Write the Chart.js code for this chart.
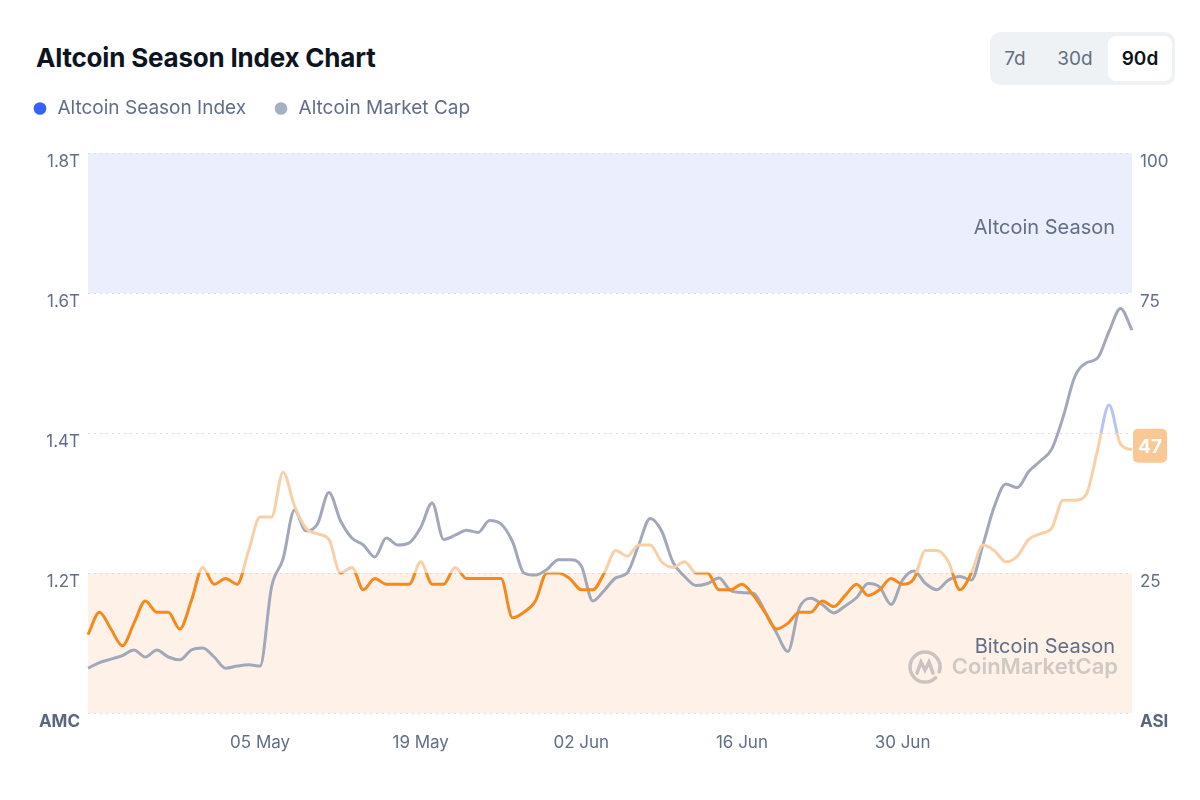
<!DOCTYPE html>
<html>
<head>
<meta charset="utf-8">
<script src="https://cdn.jsdelivr.net/npm/chart.js@4.4.1/dist/chart.umd.min.js"></script>
<style>
  html, body { margin: 0; padding: 0; background: #fff; font-family: Inter, "Noto Sans", sans-serif; }
  #page { position: relative; width: 1200px; height: 800px; overflow: hidden; }
  #title { position: absolute; left: 36px; top: 41px; font-size: 26px; font-weight: 700; color: #0D1421; line-height: 34px; letter-spacing: -0.2px; }
  #range { position: absolute; left: 990px; top: 32px; width: 185px; height: 53px; background: #EFF2F5; border-radius: 10px; }
  #range span { position: absolute; top: 4px; height: 45px; line-height: 45px; font-size: 19px; color: #616E85; text-align: center; }
  #range span.on { background: #fff; color: #0D1421; font-weight: 600; border-radius: 8px; }
  #wrap { position: absolute; left: 0; top: 72px; width: 1200px; height: 728px; }
</style>
</head>
<body>
<div id="page">
  <div id="title">Altcoin Season Index Chart</div>
  <div id="range">
    <span style="left:0px;width:50px">7d</span>
    <span style="left:60px;width:50px">30d</span>
    <span class="on" style="left:118px;width:64px">90d</span>
  </div>
  <div id="wrap"><canvas id="asiChart"></canvas></div>
</div>
<script>
// 90 days, 20 Apr -> 20 Jul
const startDay = new Date(2025, 3, 20);
const dayCount = 92;
const months = ["Jan","Feb","Mar","Apr","May","Jun","Jul","Aug","Sep","Oct","Nov","Dec"];
const dayLabels = [];
for (let i = 0; i < dayCount; i++) {
  const d = new Date(startDay.getFullYear(), startDay.getMonth(), startDay.getDate() + i);
  dayLabels.push(String(d.getDate()).padStart(2, "0") + " " + months[d.getMonth()]);
}
const xTickDates = ["05 May", "19 May", "02 Jun", "16 Jun", "30 Jun"];

// Altcoin Season Index (right axis, 0-100)
const asiValues = [
  14, 18, 15, 12, 16, 20, 18, 18, 15, 20, 26, 23, 24, 23, 29, 35, 35, 43, 37, 33, 32, 31, 25, 26,
  22, 24, 23, 23, 23, 27, 23, 23, 26, 24, 24, 24, 24, 17, 18, 20, 25, 25, 24, 22, 22, 25,
  29, 28, 30, 30, 27, 26, 27, 25, 25, 22, 22, 23, 21, 18, 15, 16, 18, 18, 20, 19, 21, 23, 21,
  22, 24, 23, 24, 29, 29, 27, 22, 25, 30, 29, 27, 28, 31, 32, 33, 38, 38, 39, 47, 55, 48, 47
];

// Altcoin Market Cap, trillions (left axis)
const amcValues = [
  1.064, 1.072, 1.077, 1.082, 1.09, 1.08, 1.09, 1.08, 1.076, 1.09, 1.093, 1.08, 1.064, 1.067, 1.069, 1.067, 1.18, 1.22, 1.29, 1.26, 1.27, 1.315, 1.275, 1.25,
  1.24, 1.223, 1.25, 1.24, 1.243, 1.265, 1.30, 1.248, 1.254, 1.261, 1.258, 1.275, 1.27, 1.245, 1.20, 1.197, 1.205, 1.219, 1.219, 1.21, 1.16, 1.175,
  1.193, 1.2, 1.24, 1.278, 1.26, 1.215, 1.195, 1.182, 1.185, 1.193, 1.175, 1.172, 1.171, 1.145, 1.115, 1.088, 1.15, 1.164, 1.155, 1.143, 1.153, 1.165, 1.185,
  1.18, 1.155, 1.19, 1.203, 1.185, 1.176, 1.19, 1.195, 1.19, 1.24, 1.295, 1.327, 1.322, 1.345, 1.36, 1.377, 1.423, 1.48, 1.5, 1.507, 1.545, 1.578, 1.547
];

const amcRange = [1.0, 1.8];
const asiRange = [0, 100];
const bitcoinSeasonMax = 25;
const altcoinSeasonMin = 75;

const ORANGE = "#F5891C";
const PEACH = "#F9D0A6";
const PALEBLUE = "#B6C4F3";
const GREY_LINE = "#A1A8BA";
const LABEL = "#616E85";
const DARK = "#58667E";

function asiStroke(c) {
  const chart = c.chart;
  const area = chart.chartArea;
  if (!area) return ORANGE;
  const yR = chart.scales.yR;
  const g = chart.ctx.createLinearGradient(0, area.bottom, 0, area.top);
  const h = area.bottom - area.top;
  const p25 = (area.bottom - yR.getPixelForValue(25)) / h;
  const p50 = (area.bottom - yR.getPixelForValue(50)) / h;
  g.addColorStop(0, ORANGE);
  g.addColorStop(p25, ORANGE);
  g.addColorStop(p25, PEACH);
  g.addColorStop(p50, PEACH);
  g.addColorStop(p50, PALEBLUE);
  g.addColorStop(1, PALEBLUE);
  return g;
}

// extra room under the legend
const legendGap = {
  id: "legendGap",
  afterInit(chart) {
    const lg = chart.legend;
    if (!lg) return;
    const fit = lg.fit.bind(lg);
    lg.fit = function () { fit(); this.height += 25; };
  }
};

const seasonBands = {
  id: "seasonBands",
  beforeDatasetsDraw(chart) {
    const { ctx, chartArea: a, scales } = chart;
    const yR = scales.yR;
    ctx.save();
    const top1 = yR.getPixelForValue(asiRange[1]);
    const bot1 = yR.getPixelForValue(altcoinSeasonMin);
    ctx.fillStyle = "#EAEEFD";
    ctx.fillRect(a.left, top1, a.right - a.left, bot1 - top1);
    const top2 = yR.getPixelForValue(bitcoinSeasonMax);
    const bot2 = yR.getPixelForValue(asiRange[0]);
    ctx.fillStyle = "#FEF1E8";
    ctx.fillRect(a.left, top2, a.right - a.left, bot2 - top2);

    // dotted grid over the bands
    ctx.strokeStyle = "#D8DCE4";
    ctx.lineWidth = 1;
    ctx.setLineDash([2, 4]);
    [0, 25, 50, 75, 100].forEach(v => {
      const y = Math.round(yR.getPixelForValue(v)) + 0.5;
      ctx.beginPath();
      ctx.moveTo(a.left, y);
      ctx.lineTo(a.right, y);
      ctx.stroke();
    });
    ctx.setLineDash([]);

    ctx.fillStyle = LABEL;
    ctx.font = "20px Inter";
    ctx.textAlign = "right";
    ctx.textBaseline = "middle";
    ctx.fillText("Altcoin Season", a.right - 17, yR.getPixelForValue(86.6));
    ctx.fillText("Bitcoin Season", a.right - 17, yR.getPixelForValue(11.8));

    // watermark
    const wy = yR.getPixelForValue(8.2);
    ctx.fillStyle = "rgba(150,150,150,0.45)";
    ctx.font = "600 22px Inter";
    ctx.fillText("CoinMarketCap", a.right - 14, wy);
    ctx.strokeStyle = "rgba(150,150,150,0.5)";
    ctx.lineWidth = 3.5;
    ctx.lineCap = "round";
    const cx = 925, r = 15;
    ctx.beginPath();
    ctx.arc(cx, wy, r, 0.25 * Math.PI, 2.1 * Math.PI);
    ctx.stroke();
    ctx.beginPath();
    ctx.moveTo(cx - 8, wy + 6);
    ctx.lineTo(cx - 4, wy - 5);
    ctx.lineTo(cx, wy + 3);
    ctx.lineTo(cx + 4, wy - 5);
    ctx.lineTo(cx + 8, wy + 6);
    ctx.stroke();
    ctx.restore();
  }
};

const lastBadge = {
  id: "lastBadge",
  afterDatasetsDraw(chart) {
    const { ctx, chartArea: a } = chart;
    const meta = chart.getDatasetMeta(0);
    const pt = meta.data[meta.data.length - 1];
    const val = asiValues[asiValues.length - 1];
    const w = 34, h = 34, x = a.right + 1, y = pt.y - h / 2 - 4;
    ctx.save();
    ctx.fillStyle = "#F9C894";
    ctx.beginPath();
    ctx.roundRect(x, y, w, h, 5);
    ctx.fill();
    ctx.fillStyle = "#fff";
    ctx.font = "bold 19px Inter";
    ctx.textAlign = "center";
    ctx.textBaseline = "middle";
    ctx.fillText(String(val), x + w / 2, y + h / 2 + 1);
    ctx.restore();
  }
};

new Chart(document.getElementById("asiChart"), {
  type: "line",
  data: {
    labels: dayLabels,
    datasets: [
      {
        label: "Altcoin Season Index",
        data: asiValues,
        yAxisID: "yR",
        borderColor: asiStroke,
        backgroundColor: "#3861FB",
        borderWidth: 3,
        pointRadius: 0,
        cubicInterpolationMode: "monotone"
      },
      {
        label: "Altcoin Market Cap",
        data: amcValues,
        yAxisID: "y",
        borderColor: GREY_LINE,
        backgroundColor: GREY_LINE,
        borderWidth: 3,
        pointRadius: 0,
        cubicInterpolationMode: "monotone"
      }
    ]
  },
  options: {
    responsive: true,
    maintainAspectRatio: false,
    animation: false,
    layout: { padding: { left: 5, right: 0, top: 0, bottom: 0 } },
    plugins: {
      tooltip: { enabled: false },
      legend: {
        position: "top",
        align: "start",
        labels: {
          usePointStyle: true,
          boxWidth: 16,
          boxHeight: 9,
          padding: 27,
          color: LABEL,
          font: { family: "Inter", size: 19 },
          generateLabels(chart) {
            const cols = ["#3861FB", "#A6B0C3"];
            return chart.data.datasets.map((ds, i) => ({
              text: ds.label,
              fillStyle: cols[i],
              strokeStyle: cols[i],
              fontColor: LABEL,
              lineWidth: 0,
              pointStyle: "circle",
              datasetIndex: i,
              hidden: false
            }));
          }
        }
      }
    },
    scales: {
      x: {
        type: "category",
        offset: false,
        grid: { display: false },
        border: { display: false },
        afterFit(s) { s.height = 87; },
        ticks: {
          autoSkip: false,
          maxRotation: 0,
          padding: 12,
          color: LABEL,
          font: { family: "Inter", size: 17 },
          callback(v) {
            const lab = this.getLabelForValue(v);
            return xTickDates.includes(lab) ? lab : "";
          }
        }
      },
      y: {
        position: "left",
        min: amcRange[0],
        max: amcRange[1],
        afterFit(s) { s.width = 83; },
        grid: { display: false },
        border: { display: false },
        ticks: {
          stepSize: 0.2,
          padding: 0,
          labelOffset: 9,
          color: c => (c.tick && Math.abs(c.tick.value - amcRange[0]) < 1e-6 ? DARK : LABEL),
          font: c => (c.tick && Math.abs(c.tick.value - amcRange[0]) < 1e-6
            ? { family: "Inter", size: 17, weight: "bold" }
            : { family: "Inter", size: 17 }),
          callback(v) {
            if (Math.abs(v - amcRange[0]) < 1e-6) return "AMC";
            return v.toFixed(1) + "T";
          }
        }
      },
      yR: {
        position: "right",
        min: asiRange[0],
        max: asiRange[1],
        afterFit(s) { s.width = 68; },
        grid: { display: false },
        border: { display: false },
        ticks: {
          stepSize: 25,
          padding: 0,
          labelOffset: 9,
          color: c => (c.tick && c.tick.value === 0 ? DARK : LABEL),
          font: c => (c.tick && c.tick.value === 0
            ? { family: "Inter", size: 17, weight: "bold" }
            : { family: "Inter", size: 17 }),
          callback(v) {
            if (v === 0) return "ASI";
            if (v === 50) return "";
            return String(v);
          }
        }
      }
    }
  },
  plugins: [legendGap, seasonBands, lastBadge]
});
</script>
</body>
</html>
